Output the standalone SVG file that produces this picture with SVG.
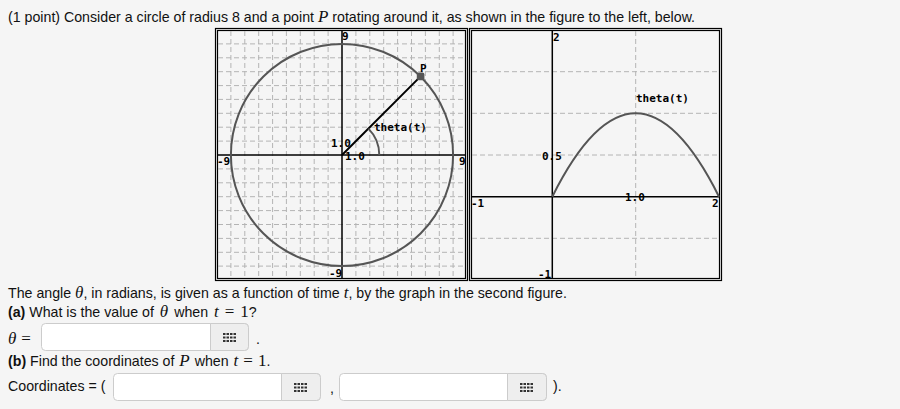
<svg xmlns="http://www.w3.org/2000/svg" width="900" height="409" viewBox="0 0 900 409">
<defs>
<style>
.txt{font-family:"Liberation Sans",Arial,sans-serif;font-size:14.2px;fill:#111}
.math{font-family:"Liberation Serif","Times New Roman",serif;font-size:17px;font-style:italic}
.mup{font-family:"Liberation Serif","Times New Roman",serif;font-size:17px}
.lbl{font-family:"DejaVu Sans Mono",monospace;font-size:11px;font-weight:bold;fill:#000}
.grid{fill:none;stroke:#b4b4b4;stroke-width:1;stroke-dasharray:5 3}
.axis{stroke:#000;stroke-width:1.5;fill:none}
.frame{fill:none;stroke:#000;stroke-width:1.2}
.curve{fill:none;stroke:#555;stroke-width:2}
.box{fill:#fff;stroke:#ccc;stroke-width:1}
.btn{fill:#eee;stroke:#ccc;stroke-width:1}
</style>
<g id="icon">
<rect x="0" y="0" width="2.5" height="2" fill="#333"/><rect x="3.5" y="0" width="2.5" height="2" fill="#333"/><rect x="7" y="0" width="2.5" height="2" fill="#333"/><rect x="10.5" y="0" width="2.5" height="2" fill="#333"/>
<rect x="0" y="3.5" width="2.5" height="2" fill="#333"/><rect x="3.5" y="3.5" width="2.5" height="2" fill="#333"/><rect x="7" y="3.5" width="2.5" height="2" fill="#333"/><rect x="10.5" y="3.5" width="2.5" height="2" fill="#333"/>
<rect x="0" y="7" width="2.5" height="2" fill="#333"/><rect x="3.5" y="7" width="2.5" height="2" fill="#333"/><rect x="7" y="7" width="2.5" height="2" fill="#333"/><rect x="10.5" y="7" width="2.5" height="2" fill="#333"/>
</g>
</defs>
<rect width="900" height="409" fill="#f5f5f5"/>

<g id="title">
<text class="txt" x="8" y="22">(1 point) Consider a circle of radius 8 and a point <tspan class="math">P</tspan> rotating around it, as shown in the figure to the left, below.</text>
</g>

<g id="circle-graph">
<rect x="215.5" y="28.5" width="252" height="252" fill="#fff" class="frame"/>
<rect x="217.5" y="30.5" width="248" height="248" class="frame"/>
<path class="grid" d="M230.9,31V278M244.8,31V278M258.7,31V278M272.6,31V278M286.4,31V278M300.3,31V278M314.2,31V278M328.1,31V278M355.9,31V278M369.8,31V278M383.7,31V278M397.6,31V278M411.5,31V278M425.4,31V278M439.3,31V278M453.1,31V278
M218,43.9H465M218,57.8H465M218,71.7H465M218,85.6H465M218,99.4H465M218,113.3H465M218,127.2H465M218,141.1H465M218,168.9H465M218,182.8H465M218,196.7H465M218,210.6H465M218,224.5H465M218,238.4H465M218,252.3H465M218,266.1H465"/>
<path class="axis" d="M342,31V279M218,155H466"/>
<circle class="curve" cx="342" cy="155" r="111.1"/>
<path d="M342,155L420.6,76.4" stroke="#000" stroke-width="2"/>
<path class="curve" d="M379.3,155A37.3,37.3 0 0 0 368.4,128.6"/>
<rect x="416.8" y="72.6" width="7.6" height="7.6" rx="2" fill="#555"/>
<text class="lbl" x="420" y="72">P</text>
<text class="lbl" x="374" y="131">theta(t)</text>
<text class="lbl" x="331" y="147">1.0</text>
<text class="lbl" x="345" y="160">1.0</text>
<text class="lbl" x="342" y="40">9</text>
<text class="lbl" x="217" y="165">-9</text>
<text class="lbl" x="459" y="165">9</text>
<text class="lbl" x="329" y="277">-9</text>
</g>

<g id="theta-graph">
<rect x="469.5" y="28.5" width="252" height="252" fill="#fff" class="frame"/>
<rect x="471.5" y="30.5" width="248" height="248" class="frame"/>
<path class="grid" d="M472,71.7H719M472,113.3H719M472,155H719M472,238.3H719M635.7,31V278"/>
<path class="axis" d="M552.3,31V279M472,196.7H720"/>
<path class="curve" d="M552.3,196.7Q635.7,30 719,196.7"/>
<text class="lbl" x="636" y="102">theta(t)</text>
<text class="lbl" x="553" y="41">2</text>
<text class="lbl" x="542" y="160">0.5</text>
<text class="lbl" x="625" y="201">1.0</text>
<text class="lbl" x="712" y="207">2</text>
<text class="lbl" x="471" y="207">-1</text>
<text class="lbl" x="538" y="278">-1</text>
</g>

<g id="question">
<text class="txt" x="8" y="298">The angle <tspan class="math">θ</tspan>, in radians, is given as a function of time <tspan class="math">t</tspan>, by the graph in the second figure.</text>
<text class="txt" x="8" y="317"><tspan font-weight="bold">(a)</tspan> What is the value of <tspan class="math" dx="2">θ</tspan><tspan dx="2"> when </tspan><tspan class="math" dx="2">t</tspan><tspan class="mup" dx="6">=</tspan><tspan class="mup" dx="6">1</tspan>?</text>
<text class="txt" x="8" y="344"><tspan class="math">θ</tspan><tspan class="mup" dx="5">=</tspan></text>
<text class="txt" x="8" y="366"><tspan font-weight="bold">(b)</tspan> Find the coordinates of <tspan class="math" dx="1">P</tspan><tspan dx="1"> when </tspan><tspan class="math" dx="1">t</tspan><tspan class="mup" dx="5">=</tspan><tspan class="mup" dx="5">1</tspan>.</text>
<text class="txt" x="8" y="391">Coordinates = (</text>
<text class="txt" x="330" y="393">,</text>
<text class="txt" x="553" y="391">).</text>
<text class="txt" x="256" y="344">.</text>
</g>

<g id="input-theta">
<rect class="box" x="41.5" y="323.5" width="207" height="27" rx="4"/>
<path class="btn" d="M210.5,323.5H244.5A4,4 0 0 1 248.5,327.5V346.5A4,4 0 0 1 244.5,350.5H210.5Z"/>
<use href="#icon" x="223" y="333"/>
</g>
<g id="input-x">
<rect class="box" x="113.5" y="373.5" width="207" height="27" rx="4"/>
<path class="btn" d="M281.5,373.5H316.5A4,4 0 0 1 320.5,377.5V396.5A4,4 0 0 1 316.5,400.5H281.5Z"/>
<use href="#icon" x="294" y="383"/>
</g>
<g id="input-y">
<rect class="box" x="339.5" y="373.5" width="207" height="27" rx="4"/>
<path class="btn" d="M507.5,373.5H542.5A4,4 0 0 1 546.5,377.5V396.5A4,4 0 0 1 542.5,400.5H507.5Z"/>
<use href="#icon" x="520" y="383"/>
</g>
</svg>
